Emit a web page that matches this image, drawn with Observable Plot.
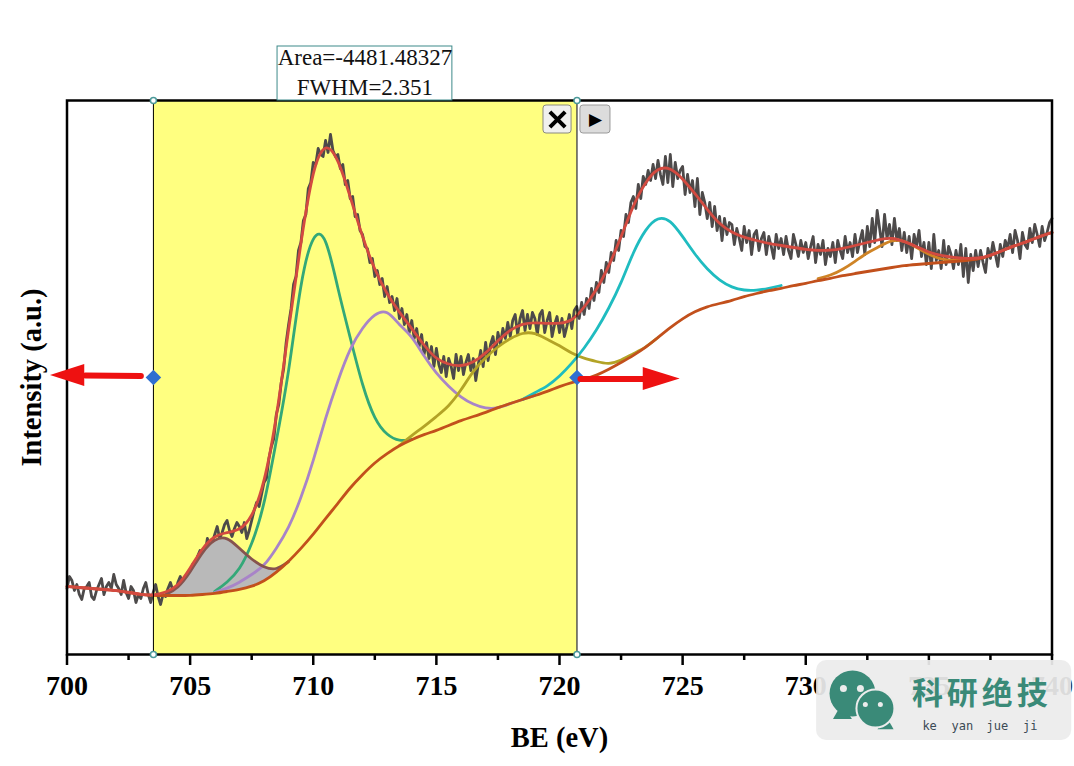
<!DOCTYPE html>
<html>
<head>
<meta charset="utf-8">
<style>
  html, body { margin: 0; padding: 0; background: #fff; overflow: hidden; }
  svg { display: block; }
</style>
<script src="https://cdn.jsdelivr.net/npm/d3@7"></script>
<script src="https://cdn.jsdelivr.net/npm/@observablehq/plot@0.6"></script>
</head>
<body>
<div id="chart"></div>
<script>
var majorTicks = [700, 705, 710, 715, 720, 725, 730, 735, 740];
var minorTicks = [702.5, 707.5, 712.5, 717.5, 722.5, 727.5, 732.5, 737.5];

// raw spectrum, 0.1 eV steps from 700.0, one row per eV
var rawCounts = [
  66,78,74,64,70,60,55,66,68,72,
  58,55,64,70,76,60,68,72,66,80,
  70,66,60,74,62,56,68,64,52,60,
  56,66,72,60,52,62,70,58,50,60,
  58,66,72,64,60,72,78,70,66,80,
  76,90,84,98,104,92,100,116,108,112,
  120,128,116,122,130,134,124,118,126,132,
  128,122,132,116,124,134,144,152,148,160,
  172,176,196,208,216,240,250,272,286,312,
  330,346,370,378,404,412,434,440,466,472,
  492,490,506,500,498,514,502,520,504,498,
  500,486,490,470,474,456,458,438,440,424,
  420,408,406,392,396,378,384,370,376,358,
  368,352,358,344,356,336,346,330,340,322,
  334,316,326,308,320,300,312,296,308,288,
  306,290,282,298,278,296,288,276,300,284,
  298,280,292,300,284,296,274,290,304,288,
  312,294,310,318,300,322,310,326,316,332,
  318,334,340,320,336,344,324,340,326,342,
  336,320,340,344,322,334,342,318,330,338,
  322,336,318,328,340,326,344,348,336,352,
  340,356,346,366,354,372,362,384,372,392,
  382,402,394,414,404,424,418,440,432,452,
  458,446,470,456,478,470,484,474,490,476,
  494,480,470,498,472,500,468,492,476,484,
  488,460,480,462,474,448,476,440,462,452,
  436,452,428,448,424,438,414,436,420,432,
  430,410,426,416,404,428,412,424,400,420,
  424,404,416,422,400,418,408,396,420,406,
  416,400,418,404,396,420,410,398,414,402,
  412,396,408,418,392,410,400,414,390,406,
  398,412,392,414,404,396,418,402,412,398,
  420,402,414,424,400,428,408,436,412,444,
  426,408,440,416,430,410,436,414,426,404,
  422,402,418,396,420,408,424,398,412,390,
  412,386,420,394,404,386,414,390,408,400,
  386,404,390,410,378,406,372,400,384,404,
  388,404,392,382,406,396,412,400,388,410,
  398,414,406,420,402,424,414,396,422,410,
  406,426,412,430,420,408,428,414,422,432,
  436
];

// fitted curves, 0.5 eV steps
var envelopeCounts = [68,67,66,65,64,62,60,59,62,68,86,107,119,122,124,136,169,234,326,413,489,513,497,458,417,384,360,342,326,309,295,290,288,292,301,314,325,331,332,331,331,333,347,364,388,417,450,473,487,487,476,461,445,430,422,417,414,411,409,407,405,404,404,406,409,412,415,417,413,408,402,399,397,396,396,399,404,409,413,418,422];
var backgroundCounts = [68,67,66,65,64,62,60,59,59,59,59,60,61,63,65,68,73,82,93,106,120,136,151,167,180,192,201,209,215,220,224,229,234,238,242,247,251,255,259,263,268,272,275,279,285,292,299,307,317,327,336,343,348,351,354,358,361,364,366,369,371,374,376,379,381,383,385,387,389,390,391,392,393,394,395,399,404,409,413,418,422];
var greyStart = 704, greyCounts = [60,66,82,103,116,118,106,95,87,84,93];
var greenStart = 706, greenCounts = [63,72,84,109,147,214,279,377,423,422,365,317,268,234,219,213,215];
var purpleStart = 706, purpleCounts = [62,66,72,80,88,106,126,156,193,237,274,307,327,341,345,329,319,298,281,268,257,250,246,246,251,255,259];
var oliveStart = 713.5, oliveCounts = [209,219,228,238,248,264,284,297,308,316,322,322,315,309,301,296,293,290,294,301,307,317];
var tealStart = 718.5, tealCounts = [255,262,268,278,291,306,324,346,371,403,426,438,435,418,400,385,374,367,364,364,366,369];
var orangeStart = 730.5, orangeCounts = [376,379,385,393,402,408,415,414,407,400,395,394,395];

// selection window and annotations, in eV / counts
var regionLeft = 703.51, regionRight = 720.71, handleY = 277;
var yTop = 554;

function curve(start, values) {
  return values.map(function (v, i) { return { e: start + i * 0.5, v: v }; });
}
var raw = rawCounts.map(function (v, i) { return { e: 700 + i * 0.1, v: v }; });
var envelope = curve(700, envelopeCounts);
var background = curve(700, backgroundCounts);
var grey = curve(greyStart, greyCounts).map(function (d) {
  return { e: d.e, v: d.v, b: backgroundCounts[(d.e - 700) * 2] };
});

var serif = '"Liberation Serif", "Times New Roman", serif';
function fit(data, color) {
  return Plot.line(data, { x: 'e', y: 'v', curve: 'basis', strokeWidth: 2.8, stroke: color });
}
function at(x, y) {
  return { x: function () { return x; }, y: function () { return y; } };
}

var chart = Plot.plot({
  width: 1074,
  height: 766,
  marginLeft: 66.5,
  marginRight: 22.5,
  marginTop: 100,
  marginBottom: 112,
  x: { domain: [700, 740], axis: null },
  y: { domain: [0, yTop], axis: null },
  style: { background: '#fff', fontFamily: serif, color: '#000' },
  marks: [
    Plot.rect([0], { x1: regionLeft, x2: regionRight, y1: 0, y2: yTop, fill: '#ffff80' }),
    Plot.line(raw, { x: 'e', y: 'v', stroke: '#4d4a4a', strokeWidth: 2.8 }),
    Plot.areaY(grey, { x: 'e', y1: 'b', y2: 'v', curve: 'basis', fill: '#b9b9b9' }),
    fit(curve(greenStart, greenCounts), '#33a878'),
    fit(curve(purpleStart, purpleCounts), '#a884c8'),
    fit(curve(oliveStart, oliveCounts), '#b3a326'),
    fit(curve(tealStart, tealCounts), '#1fbcc0'),
    fit(curve(orangeStart, orangeCounts), '#cf8426'),
    fit(grey, '#86534e'),
    fit(background, '#c2501c'),
    fit(envelope, '#d34a40'),

    Plot.ruleX([regionLeft, regionRight], { y1: 0, y2: yTop, stroke: '#000', strokeWidth: 1 }),
    Plot.frame({ stroke: '#000', strokeWidth: 2.5 }),
    Plot.ruleX(minorTicks, { y1: 0, y2: -6, stroke: '#000', strokeWidth: 2.5 }),
    Plot.axisX({ ticks: majorTicks, tickSize: 11, tickPadding: 10, tickFormat: 'd', strokeWidth: 2.5, fontSize: 28, fontWeight: 'bold', label: null }),
    Plot.text(['BE (eV)'], { x: 720, y: -83, fontSize: 28.5, fontWeight: 'bold' }),
    Plot.text(['Intensity (a.u.)'], { x: 698.58, y: 277, rotate: -90, fontSize: 28.5, fontWeight: 'bold' }),

    // handles
    Plot.dot([regionLeft, regionRight], { x: function (d) { return d; }, y: function () { return yTop; }, r: 3, fill: '#fff', stroke: '#4c9a9a' }),
    Plot.dot([regionLeft, regionRight], { x: function (d) { return d; }, y: function () { return 0; }, r: 3, fill: '#fff', stroke: '#4c9a9a' }),
    Plot.dot([regionLeft, regionRight], { x: function (d) { return d; }, y: function () { return handleY; }, symbol: 'diamond2', r: 7, fill: '#2f6fd0' }),

    // red arrows
    Plot.line([{ e: 700.75, v: 279 }, { e: 703, v: 278.5 }], { x: 'e', y: 'v', stroke: '#ee1111', strokeWidth: 6 }),
    Plot.areaY([{ e: 699.33, a: 279, b: 279 }, { e: 700.72, a: 268, b: 290 }], { x: 'e', y1: 'a', y2: 'b', fill: '#ee1111' }),
    Plot.line([{ e: 720.85, v: 275.5 }, { e: 723.5, v: 275.5 }], { x: 'e', y: 'v', stroke: '#ee1111', strokeWidth: 6 }),
    Plot.areaY([{ e: 723.4, a: 264, b: 287 }, { e: 724.9, a: 275.5, b: 275.5 }], { x: 'e', y1: 'a', y2: 'b', fill: '#ee1111' }),

    // area / fwhm label
    Plot.rect([0], { x1: 708.55, x2: 715.65, y1: yTop, y2: 608, fill: '#fff', stroke: '#3d8a8a', strokeWidth: 1 }),
    Plot.text(['Area=-4481.48327'], { x: 712.1, y: 597, fontSize: 23, fontWeight: 'normal', fill: '#111' }),
    Plot.text(['FWHM=2.351'], { x: 712.1, y: 567, fontSize: 23, fontWeight: 'normal', fill: '#111' }),

    // buttons
    Plot.rect([0], { x1: 719.35, x2: 720.49, y1: 521, y2: 549, rx: 3, fill: '#f0f0ee', stroke: '#8a8a80' }),
    Plot.rect([0], { x1: 720.85, x2: 722.07, y1: 521, y2: 549, rx: 3, fill: '#dcdcdc', stroke: '#9a9a9a' }),
    Plot.dot([0], Object.assign(at(719.92, 535), { symbol: 'times', r: 7, stroke: '#000', strokeWidth: 4 })),
    Plot.text(['\u25B6'], { x: 721.46, y: 535, fontSize: 17, fontFamily: 'DejaVu Sans', fill: '#000', fontWeight: 'normal' }),

    // watermark
    Plot.rect([0], { x1: 730.44, x2: 740.8, y1: -6, y2: -86, rx: 10, fill: '#ececec', fillOpacity: 0.93 }),
    Plot.dot([0], Object.assign(at(731.49, -59), { symbol: 'triangle', r: 7, fill: '#3a8a78' })),
    Plot.dot([0], Object.assign(at(731.9, -39), { r: 23, fill: '#3a8a78' })),
    Plot.dot([0], Object.assign(at(733.24, -70), { symbol: 'triangle', r: 6, fill: '#3a8a78' })),
    Plot.dot([0], Object.assign(at(732.83, -54), { r: 19, fill: '#3a8a78', stroke: '#ececec', strokeWidth: 2 })),
    Plot.dot([731.53, 732.22], { x: function (d) { return d; }, y: function () { return -34; }, r: 3.5, fill: '#ececec' }),
    Plot.dot([732.42, 733.03], { x: function (d) { return d; }, y: function () { return -50; }, r: 2.5, fill: '#ececec' }),
    Plot.text(['科', '研', '绝', '技'], { x: function (d, i) { return [734.94, 736.36, 737.78, 739.2][i]; }, y: function () { return -40; }, text: function (d) { return d; }, fontSize: 31, fontWeight: 'bold', fontFamily: '"Noto Sans CJK SC"', fill: '#3a8a78' }),
    Plot.text(['ke', 'yan', 'jue', 'ji'], { x: function (d, i) { return [735.03, 736.36, 737.78, 739.12][i]; }, y: function () { return -72; }, text: function (d) { return d; }, fontSize: 12, fontWeight: 'normal', fontFamily: '"DejaVu Sans Mono"', fill: '#3b4a55' })
  ]
});
document.getElementById('chart').appendChild(chart);
</script>
</body>
</html>
